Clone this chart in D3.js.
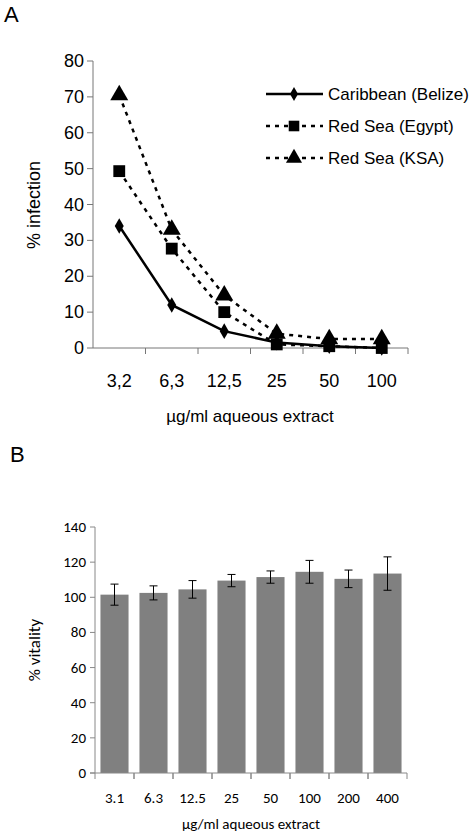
<!DOCTYPE html>
<html><head><meta charset="utf-8">
<script src="https://cdn.jsdelivr.net/npm/d3@7"></script>
<style>body{margin:0;background:#fff}svg{display:block}</style>
</head><body>
<script>
// panel A data
var doseA = ["3,2", "6,3", "12,5", "25", "50", "100"];
var belize = [34, 12, 4.7, 1.5, 0.5, 0];
var egypt = [49.3, 27.7, 10, 1, 0.5, 0];
var ksa = [70.5, 33, 14.7, 4, 2.5, 2.5];
var ticksA = [0, 10, 20, 30, 40, 50, 60, 70, 80];
// panel B data
var doseB = ["3.1", "6.3", "12.5", "25", "50", "100", "200", "400"];
var vitality = [101.5, 102.5, 104.5, 109.5, 111.5, 114.5, 110.5, 113.5];
var vitalityErr = [6, 4, 5, 3.5, 3.5, 6.5, 5, 9.5];
var ticksB = [0, 20, 40, 60, 80, 100, 120, 140];

var svg = d3.select("body").append("svg").attr("width", 474).attr("height", 835);
var arial = "Liberation Sans, Arial, sans-serif";
var cal = "Carlito, Open Sans, sans-serif";

// ---- A ----
svg.append("text").attr("x", 4).attr("y", 22).attr("font-family", arial).attr("font-size", 22).text("A");
var xA = d3.scaleBand().domain(doseA).range([93, 408]);
var yA = d3.scaleLinear().domain([0, 80]).range([348, 61]);
var gA = svg.append("g").attr("font-family", arial);
gA.append("line").attr("x1", 93).attr("x2", 93).attr("y1", 61).attr("y2", 348).attr("stroke", "#777");
gA.append("line").attr("x1", 93).attr("x2", 408).attr("y1", 348).attr("y2", 348).attr("stroke", "#777");
ticksA.forEach(function (t) {
    gA.append("line").attr("x1", 87).attr("x2", 93).attr("y1", yA(t)).attr("y2", yA(t)).attr("stroke", "#777");
    gA.append("text").attr("x", 84).attr("y", yA(t) + 6).attr("text-anchor", "end").attr("font-size", 18).text(t);
});
doseA.forEach(function (d, i) {
    var x0 = xA(d);
    gA.append("line").attr("x1", x0 + xA.bandwidth()).attr("x2", x0 + xA.bandwidth()).attr("y1", 348).attr("y2", 354).attr("stroke", "#777");
    gA.append("text").attr("x", x0 + xA.bandwidth() / 2).attr("y", 387).attr("text-anchor", "middle").attr("font-size", 18).text(d);
});
gA.append("text").attr("x", 250).attr("y", 422).attr("text-anchor", "middle").attr("font-size", 17).text("µg/ml aqueous extract");
gA.append("text").attr("transform", "translate(40,205) rotate(-90)").attr("text-anchor", "middle").attr("font-size", 18).text("% infection");

var series = [
    { name: "Caribbean (Belize)", v: belize, dash: null, shape: d3.symbolDiamond, size: 70 },
    { name: "Red Sea (Egypt)", v: egypt, dash: "4,5", shape: d3.symbolSquare, size: 140 },
    { name: "Red Sea (KSA)", v: ksa, dash: "4,5", shape: d3.symbolTriangle, size: 140 }
];
var line = d3.line().x(function (d, i) { return xA(doseA[i]) + xA.bandwidth() / 2; }).y(function (d) { return yA(d); });
series.forEach(function (s, k) {
    gA.append("path").attr("d", line(s.v)).attr("fill", "none").attr("stroke", "#000")
        .attr("stroke-width", 2.5).attr("stroke-dasharray", s.dash);
    s.v.forEach(function (d, i) {
        gA.append("path").attr("d", d3.symbol().type(s.shape).size(s.size)())
            .attr("transform", "translate(" + (xA(doseA[i]) + xA.bandwidth() / 2) + "," + yA(d) + ")");
    });
    var ly = 94 + k * 32;
    gA.append("line").attr("x1", 266).attr("x2", 323).attr("y1", ly).attr("y2", ly).attr("stroke", "#000")
        .attr("stroke-width", 2.5).attr("stroke-dasharray", s.dash);
    gA.append("path").attr("d", d3.symbol().type(s.shape).size(s.size * 0.8)()).attr("transform", "translate(294," + ly + ")");
    gA.append("text").attr("x", 328).attr("y", ly + 6).attr("font-size", 17).text(s.name);
});

// ---- B ----
svg.append("text").attr("x", 10).attr("y", 462).attr("font-family", arial).attr("font-size", 22).text("B");
var xB = d3.scaleBand().domain(doseB).range([95, 407]).paddingInner(0.28).paddingOuter(0.14);
var xBt = d3.scaleBand().domain(doseB).range([95, 407]);
var yB = d3.scaleLinear().domain([0, 140]).range([773, 527]);
var gB = svg.append("g").attr("font-family", cal);
gB.selectAll("rect.bar").data(vitality).enter().append("rect")
    .attr("x", function (d, i) { return xB(doseB[i]); }).attr("width", xB.bandwidth())
    .attr("y", function (d) { return yB(d); }).attr("height", function (d) { return yB(0) - yB(d); })
    .attr("fill", "#808080");
vitality.forEach(function (d, i) {
    var cx = xB(doseB[i]) + xB.bandwidth() / 2, top = yB(d + vitalityErr[i]), bot = yB(d - vitalityErr[i]);
    gB.append("line").attr("x1", cx).attr("x2", cx).attr("y1", top).attr("y2", bot).attr("stroke", "#000");
    [top, bot].forEach(function (y) {
        gB.append("line").attr("x1", cx - 4).attr("x2", cx + 4).attr("y1", y).attr("y2", y).attr("stroke", "#000");
    });
});
gB.append("line").attr("x1", 95).attr("x2", 95).attr("y1", 527).attr("y2", 773).attr("stroke", "#888");
gB.append("line").attr("x1", 90).attr("x2", 407).attr("y1", 773).attr("y2", 773).attr("stroke", "#888");
ticksB.forEach(function (t) {
    gB.append("line").attr("x1", 90).attr("x2", 95).attr("y1", yB(t)).attr("y2", yB(t)).attr("stroke", "#888");
    gB.append("text").attr("x", 86).attr("y", yB(t) + 5).attr("text-anchor", "end").attr("font-size", 15).text(t);
});
doseB.forEach(function (d) {
    var x0 = xBt(d);
    gB.append("line").attr("x1", x0).attr("x2", x0).attr("y1", 773).attr("y2", 779).attr("stroke", "#888");
    gB.append("line").attr("x1", x0 + xBt.bandwidth()).attr("x2", x0 + xBt.bandwidth()).attr("y1", 773).attr("y2", 779).attr("stroke", "#888");
    gB.append("text").attr("x", x0 + xBt.bandwidth() / 2).attr("y", 803).attr("text-anchor", "middle").attr("font-size", 15).text(d);
});
gB.append("text").attr("x", 251).attr("y", 829).attr("text-anchor", "middle").attr("font-size", 15).text("µg/ml aqueous extract");
gB.append("text").attr("transform", "translate(40,650) rotate(-90)").attr("text-anchor", "middle").attr("font-size", 17).text("% vitality");
</script>
</body></html>
